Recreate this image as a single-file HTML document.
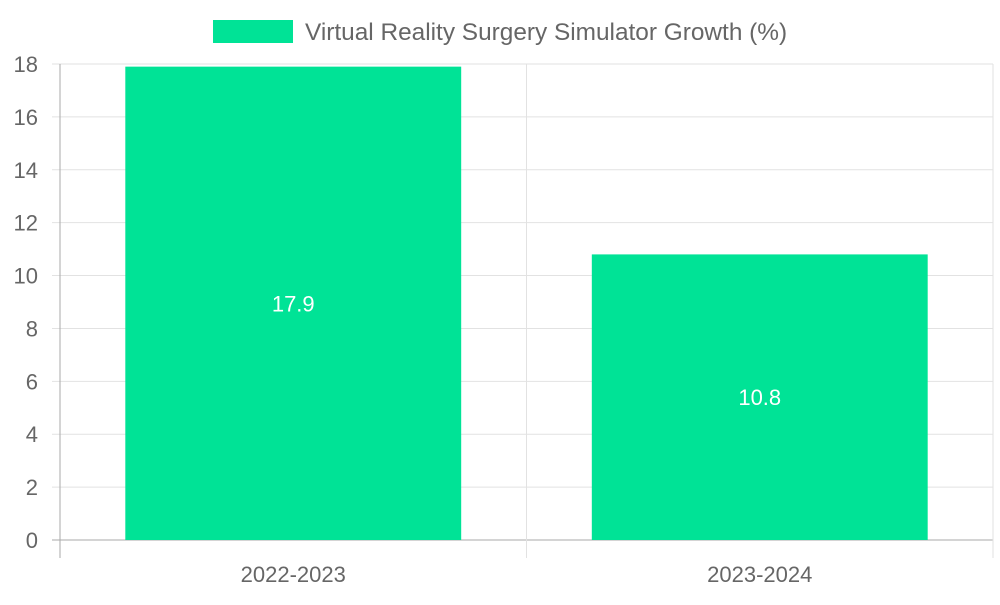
<!DOCTYPE html>
<html><head><meta charset="utf-8"><style>
html,body{margin:0;padding:0;background:#fff;}
svg text{font-family:"Liberation Sans",sans-serif;}
</style></head><body>
<svg width="1000" height="600" viewBox="0 0 1000 600" id="chart">
<g>
<rect x="213" y="20" width="80" height="23" fill="#00e396"/>
<text x="305" y="40" font-size="24.4" fill="#666">Virtual Reality Surgery Simulator Growth (%)</text>
</g>
<g id="grid"></g>
<g id="bars"></g>
<g id="axes"></g>
</svg>
<script>
const categories = ["2022-2023", "2023-2024"];
const values = [17.9, 10.8];
const yTicks = [0, 2, 4, 6, 8, 10, 12, 14, 16, 18];

const NS = "http://www.w3.org/2000/svg";
const plotLeft = 60, plotRight = 993, plotTop = 64, plotBottom = 540, yMax = 18;
const yScale = v => plotBottom - (v / yMax) * (plotBottom - plotTop);
const catW = (plotRight - plotLeft) / categories.length;
const xScale = i => plotLeft + catW * (i + 0.5);
const barW = catW * 0.72;
function mk(tag, attrs, parent){const e=document.createElementNS(NS,tag);for(const k in attrs)e.setAttribute(k,attrs[k]);parent.appendChild(e);return e;}
const grid = document.getElementById('grid'), bars = document.getElementById('bars'), axes = document.getElementById('axes');

yTicks.forEach(t => {
  const l = mk('line',{x1:plotLeft-8,x2:plotRight,y1:yScale(t),y2:yScale(t),stroke:t===0?'#aaa':'#e2e2e2','stroke-width':1},grid);
  
  
  const tx = mk('text',{x:plotLeft-22,y:yScale(t)+8,'font-size':22,fill:'#666','text-anchor':'end'},axes);
  tx.textContent = t;
  
  
});
for (let i = 0; i <= categories.length; i++) {
  const gx = plotLeft + catW * i;
  const l = mk('line',{x1:gx,x2:gx,y1:plotTop,y2:plotBottom+18,stroke:i===0?'#aaa':'#e2e2e2','stroke-width':1},grid);
  
  
}
categories.forEach((c, i) => {
  const r = mk('rect',{x:xScale(i)-barW/2,y:yScale(values[i]),width:barW,height:plotBottom-yScale(values[i]),fill:'#00e396'},bars);
  
  
  const vt = mk('text',{x:xScale(i),y:(yScale(values[i])+plotBottom)/2+8,'font-size':22,fill:'#fff','text-anchor':'middle'},bars);
  vt.textContent = values[i];
  
  
  const xt = mk('text',{x:xScale(i),y:582,'font-size':22,fill:'#666','text-anchor':'middle'},axes);
  xt.textContent = c;
  
  
});
</script>
</body></html>
